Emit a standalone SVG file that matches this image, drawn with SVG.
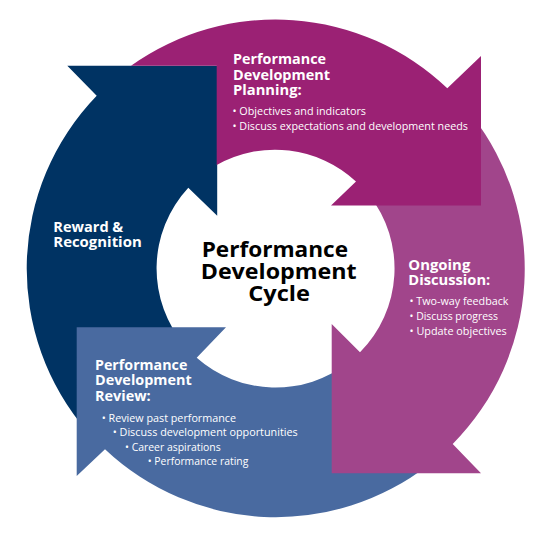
<svg xmlns="http://www.w3.org/2000/svg" width="554" height="537" viewBox="0 0 554 537">
<style>
  .hd { font-family: "Open Sans", "Noto Sans", sans-serif; font-weight: 700; font-size: 14px; fill: #ffffff; }
  .bl { font-family: "Open Sans", "Noto Sans", sans-serif; font-weight: 400; font-size: 10.5px; fill: #ffffff; }
  .ct { font-family: "Open Sans", "Noto Sans", sans-serif; font-weight: 700; font-size: 22px; fill: #000000; }
  .navy { fill: #003363; }
  .blue { fill: #496AA0; }
  .lpur { fill: #A1458B; }
  .pur { fill: #9B2174; }
</style>
<rect x="0" y="0" width="554" height="537" fill="#ffffff"/>

<g id="stage-reward">
  <path class="navy" d="M87.6,431.9 A249,249 0 0 1 96.7,95.7 L67.3,65.7 L217.2,65.7 L217.2,215.7 L188.3,187.7 A119,119 0 0 0 185.7,346.6 Z"/>
  <text class="hd" x="53.3" y="232.3" textLength="70" lengthAdjust="spacingAndGlyphs">Reward &amp;</text>
  <text class="hd" x="53.3" y="247.3" textLength="88.4" lengthAdjust="spacingAndGlyphs">Recognition</text>
</g>

<g id="stage-review">
  <path class="blue" d="M428.8,464.7 A249,249 0 0 1 105,449.3 L76.7,476 L76.7,327.3 L226,327.3 L196.7,357.7 A119,119 0 0 0 348.8,362.3 Z"/>
  <text class="hd" x="95" y="370" textLength="92.3" lengthAdjust="spacingAndGlyphs">Performance</text>
  <text class="hd" x="95" y="385.3" textLength="96.7" lengthAdjust="spacingAndGlyphs">Development</text>
  <text class="hd" x="95" y="400.7" textLength="55.7" lengthAdjust="spacingAndGlyphs">Review:</text>
  <text class="bl" x="101.7" y="421.7" textLength="134.3" lengthAdjust="spacingAndGlyphs">• Review past performance</text>
  <text class="bl" x="112.7" y="436" textLength="185" lengthAdjust="spacingAndGlyphs">• Discuss development opportunities</text>
  <text class="bl" x="125" y="450.5" textLength="95.7" lengthAdjust="spacingAndGlyphs">• Career aspirations</text>
  <text class="bl" x="147.7" y="465" textLength="100.6" lengthAdjust="spacingAndGlyphs">• Performance rating</text>
</g>

<g id="stage-ongoing">
  <path class="lpur" d="M471.7,115.2 A249,249 0 0 1 452.7,444 L481,473.3 L331.7,473.3 L331.7,324 L360,352.3 A119,119 0 0 0 369.3,195.2 Z"/>
  <text class="hd" x="408.3" y="269.5" textLength="62" lengthAdjust="spacingAndGlyphs">Ongoing</text>
  <text class="hd" x="408.3" y="284.5" textLength="82" lengthAdjust="spacingAndGlyphs">Discussion:</text>
  <text class="bl" x="409.5" y="304.5" textLength="99" lengthAdjust="spacingAndGlyphs">• Two-way feedback</text>
  <text class="bl" x="409.5" y="319.5" textLength="88.5" lengthAdjust="spacingAndGlyphs">• Discuss progress</text>
  <text class="bl" x="409.5" y="334.5" textLength="97.2" lengthAdjust="spacingAndGlyphs">• Update objectives</text>
</g>

<g id="stage-planning">
  <path class="pur" d="M131,65.7 A249,249 0 0 1 447.3,88.3 L481,56 L481,205.5 L331,205.5 L356,181.5 A119,119 0 0 0 216.7,165 L216.7,65.7 Z"/>
  <text class="hd" x="233" y="64" textLength="93" lengthAdjust="spacingAndGlyphs">Performance</text>
  <text class="hd" x="233" y="79.5" textLength="97" lengthAdjust="spacingAndGlyphs">Development</text>
  <text class="hd" x="233" y="95" textLength="68.7" lengthAdjust="spacingAndGlyphs">Planning:</text>
  <text class="bl" x="232.5" y="115" textLength="133.5" lengthAdjust="spacingAndGlyphs">• Objectives and indicators</text>
  <text class="bl" x="232.5" y="129.5" textLength="235.5" lengthAdjust="spacingAndGlyphs">• Discuss expectations and development needs</text>
</g>

<g id="center-title">
  <text class="ct" x="201.7" y="257" textLength="146.3" lengthAdjust="spacingAndGlyphs">Performance</text>
  <text class="ct" x="200.7" y="279" textLength="156" lengthAdjust="spacingAndGlyphs">Development</text>
  <text class="ct" x="248.3" y="300.5" textLength="61.7" lengthAdjust="spacingAndGlyphs">Cycle</text>
</g>
</svg>
